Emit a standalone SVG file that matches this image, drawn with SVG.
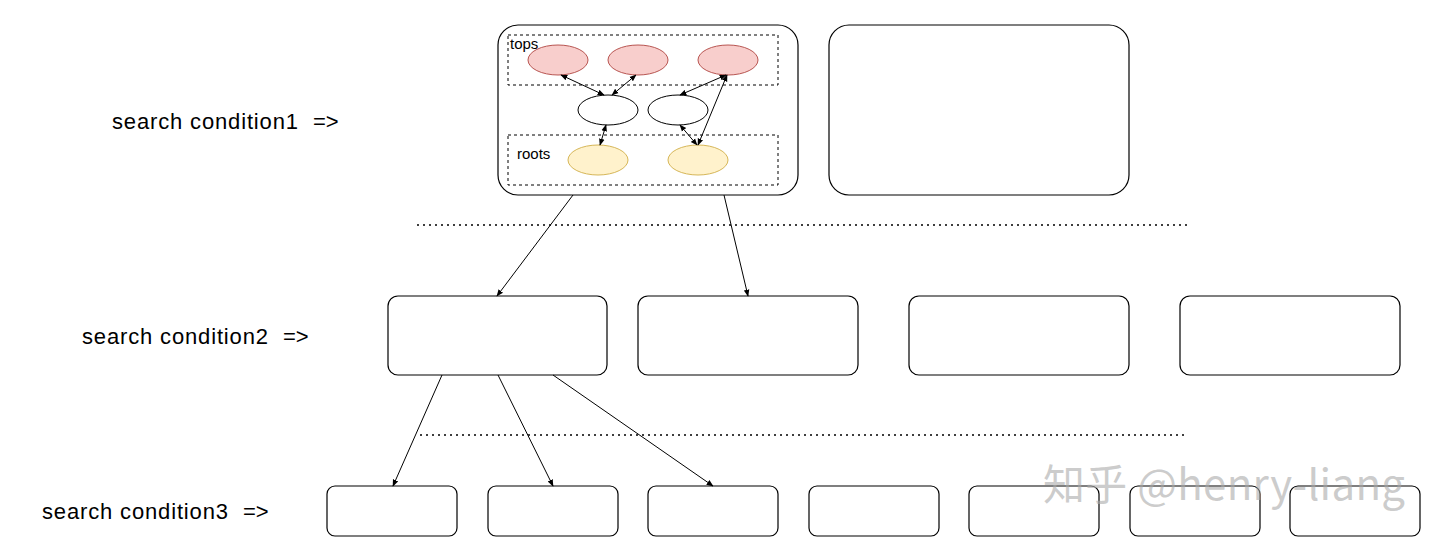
<svg xmlns="http://www.w3.org/2000/svg" width="1440" height="547" viewBox="0 0 1440 547">
<style>
text{font-family:"Liberation Sans",Arial,sans-serif;fill:#000}
.lbl{font-size:22px}
.box{fill:#fff;stroke:#000;stroke-width:1.2}
.dash{fill:none;stroke:#000;stroke-dasharray:3 3}
.top{fill:#f8cecc;stroke:#b85450}
.root{fill:#fff2cc;stroke:#d6b656}
.mid{fill:#fff;stroke:#000}
.c{stroke:#000;stroke-width:1;fill:none;marker-end:url(#a)}
.d{stroke:#000;stroke-width:1;fill:none;marker-end:url(#a);marker-start:url(#b)}
.dot{stroke:#000;stroke-dasharray:2 4;stroke-width:1.3}
</style>
<defs>
<marker id="a" viewBox="0 0 10 10" refX="9" refY="5" markerWidth="7" markerHeight="7" orient="auto"><path d="M0 1L10 5L0 9z"/></marker>
<marker id="b" viewBox="0 0 10 10" refX="1" refY="5" markerWidth="7" markerHeight="7" orient="auto"><path d="M10 1L0 5L10 9z"/></marker>
</defs>
<rect width="1440" height="547" fill="#fff"/>
<text class="lbl" x="112" y="129" textLength="186">search condition1</text><text class="lbl" x="313" y="129">=&gt;</text>
<text class="lbl" x="82" y="344" textLength="186">search condition2</text><text class="lbl" x="283" y="344">=&gt;</text>
<text class="lbl" x="42" y="519" textLength="186">search condition3</text><text class="lbl" x="243" y="519">=&gt;</text>
<line class="dot" x1="417" y1="225" x2="1190" y2="225"/>
<line class="dot" x1="420" y1="435" x2="1188" y2="435"/>
<g id="n1">
<rect class="box" x="498" y="25" width="300" height="170" rx="20"/>
<rect class="dash" x="508" y="35" width="270" height="50"/>
<text x="510" y="49" font-size="15">tops</text>
<rect class="dash" x="508" y="135" width="270" height="50"/>
<text x="517" y="159" font-size="15">roots</text>
<ellipse class="top" cx="558" cy="60" rx="30" ry="15"/>
<ellipse class="top" cx="638" cy="60" rx="30" ry="15"/>
<ellipse class="top" cx="728" cy="60" rx="30" ry="15"/>
<ellipse class="mid" cx="608" cy="110" rx="30" ry="15"/>
<ellipse class="mid" cx="678" cy="110" rx="30" ry="15"/>
<ellipse class="root" cx="598" cy="160" rx="30" ry="15"/>
<ellipse class="root" cx="698" cy="160" rx="30" ry="15"/>
</g>
<g id="n2"><rect class="box" x="829" y="25" width="300" height="170" rx="20"/></g>
<g id="r2">
<rect class="box" x="388" y="296" width="219" height="79" rx="10"/>
<rect class="box" x="638" y="296" width="220" height="79" rx="10"/>
<rect class="box" x="909" y="296" width="220" height="79" rx="10"/>
<rect class="box" x="1180" y="296" width="220" height="79" rx="10"/>
</g>
<g id="r3">
<rect class="box" x="327" y="486" width="130" height="50" rx="8"/>
<rect class="box" x="488" y="486" width="130" height="50" rx="8"/>
<rect class="box" x="648" y="486" width="130" height="50" rx="8"/>
<rect class="box" x="809" y="486" width="130" height="50" rx="8"/>
<rect class="box" x="969" y="486" width="130" height="50" rx="8"/>
<rect class="box" x="1130" y="486" width="130" height="50" rx="8"/>
<rect class="box" x="1290" y="486" width="130" height="50" rx="8"/>
</g>
<g id="connectors">
<line class="d" x1="561" y1="75" x2="604" y2="95"/>
<line class="d" x1="636" y1="75" x2="612" y2="95"/>
<line class="d" x1="726" y1="75" x2="680" y2="95"/>
<line class="d" x1="606" y1="125" x2="600" y2="145"/>
<line class="d" x1="680" y1="125" x2="697" y2="145"/>
<line class="d" x1="727" y1="75" x2="698" y2="145"/>
<line class="c" x1="573" y1="195" x2="497" y2="296"/>
<line class="c" x1="724" y1="195" x2="748" y2="296"/>
<line class="c" x1="442" y1="375" x2="393" y2="486"/>
<line class="c" x1="498" y1="375" x2="553" y2="486"/>
<line class="c" x1="553" y1="375" x2="713" y2="486"/>
</g>
<text x="1043" y="500" font-size="42" textLength="362" style="fill:#aaa;fill-opacity:0.6;font-family:'Noto Sans CJK SC','Liberation Sans',sans-serif">知乎 @henry-liang</text>
</svg>
